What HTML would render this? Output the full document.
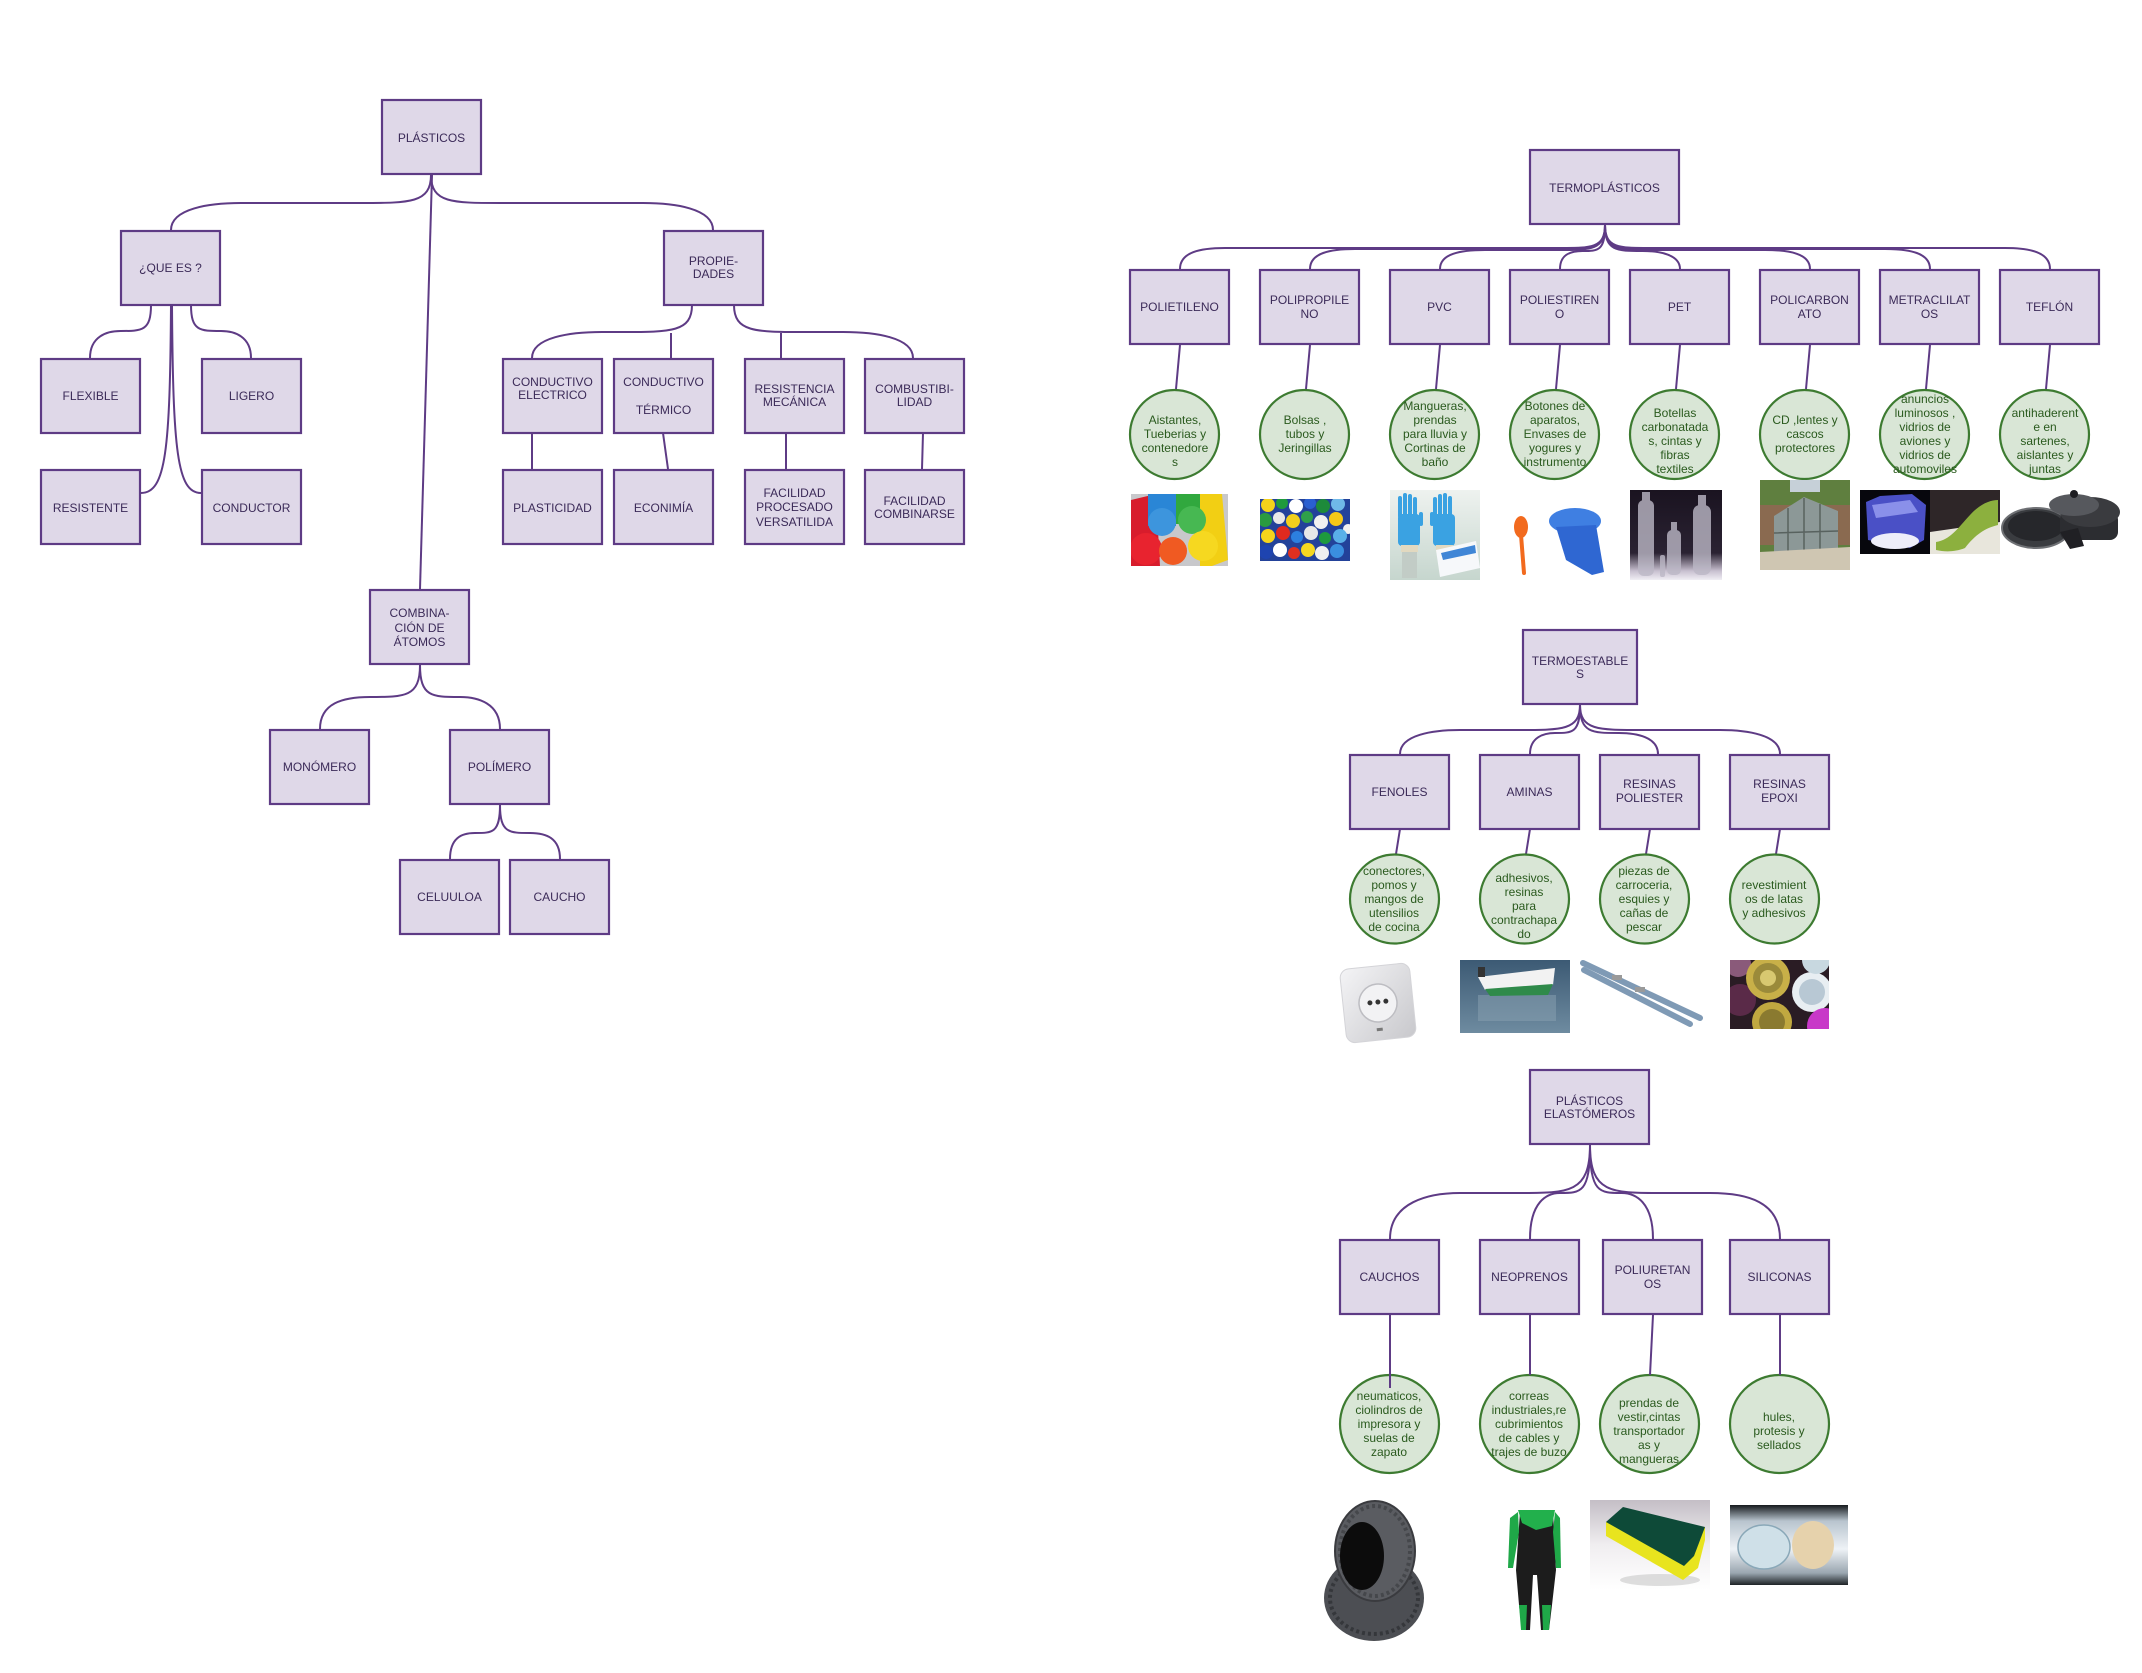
<!DOCTYPE html>
<html><head><meta charset="utf-8">
<style>
html,body{margin:0;padding:0;background:#fff;}
svg{display:block;}
.b{fill:#dfd8e8;stroke:#5e3b85;stroke-width:2.2;}
.e{fill:#d9e6d6;stroke:#3d7b31;stroke-width:2.2;}
.c{fill:none;stroke:#5e3b85;stroke-width:2;}
text{font-family:"Liberation Sans",Arial,sans-serif;font-size:12px;text-anchor:middle;}
.t{fill:#3b2a58;}
.g{fill:#2a5a1e;}
</style></head><body>
<svg width="2142" height="1673" viewBox="0 0 2142 1673" xmlns="http://www.w3.org/2000/svg">
<defs>
<linearGradient id="gPvc" x1="0" y1="0" x2="0" y2="1"><stop offset="0" stop-color="#eef2ef"/><stop offset="1" stop-color="#c6d6ce"/></linearGradient>
<linearGradient id="gPet" x1="0" y1="0" x2="0" y2="1"><stop offset="0" stop-color="#1a1320"/><stop offset="0.7" stop-color="#2a2232"/><stop offset="0.9" stop-color="#c8c0d0"/><stop offset="1" stop-color="#f0eef4"/></linearGradient>
<linearGradient id="gBoat" x1="0" y1="0" x2="0" y2="1"><stop offset="0" stop-color="#3c5a74"/><stop offset="1" stop-color="#6e8ba0"/></linearGradient>
<linearGradient id="gSponge" x1="0" y1="0" x2="0" y2="1"><stop offset="0" stop-color="#c4bec6"/><stop offset="0.5" stop-color="#f0eef0"/><stop offset="1" stop-color="#ffffff"/></linearGradient>
<linearGradient id="gSil" x1="0" y1="0" x2="0" y2="1"><stop offset="0" stop-color="#161a1e"/><stop offset="0.2" stop-color="#b8c4ce"/><stop offset="0.55" stop-color="#eef2f6"/><stop offset="0.85" stop-color="#9aa6b0"/><stop offset="1" stop-color="#1e2226"/></linearGradient>
<linearGradient id="gSock" x1="0" y1="0" x2="1" y2="1"><stop offset="0" stop-color="#f4f4f6"/><stop offset="1" stop-color="#c8c8cc"/></linearGradient>
<clipPath id="cCaps"><rect x="1260" y="499" width="90" height="62"/></clipPath>
<clipPath id="cCans"><rect x="1730" y="960" width="99" height="69"/></clipPath>
<clipPath id="cRolls"><rect x="1131" y="494" width="97" height="72"/></clipPath>
<clipPath id="cGreen"><rect x="1760" y="480" width="90" height="90"/></clipPath>
<clipPath id="cMeta"><rect x="1860" y="490" width="140" height="64"/></clipPath>
</defs>

<!-- ============ LEFT TREE CONNECTORS ============ -->
<path class="c" d="M431 175 C431 203 410 203 361 203 L241 203 C209.5 203 171 208.4 171 230"/>
<path class="c" d="M431 175 C431 203 452 203 501 203 L643 203 C674.5 203 713 208.4 713 230"/>
<path class="c" d="M432 175 L420 589"/>
<path class="c" d="M151 305 C151 331 141.8 331 120.5 331 C106.8 331 90 336.4 90 358"/>
<path class="c" d="M191 305 C191 331 200 331 221 331 C234.5 331 251 336.4 251 358"/>
<path class="c" d="M171 305 C170 450 166 493 141 493"/>
<path class="c" d="M172 305 C173 450 177 493 201 493"/>
<path class="c" d="M692 305 C692 332 671 332 622 332 L602 332 C570.5 332 532 337.2 532 358"/>
<path class="c" d="M734 305 C734 332 755 332 804 332 L843 332 C874.5 332 913 337.2 913 358"/>
<path class="c" d="M671 333 L671 358 M781 333 L781 358"/>
<path class="c" d="M532 433 L532 469 M663 433 L668 469 M786 433 L786 469 M923 433 L922 469"/>
<path class="c" d="M420 665 C420 697 405 697 370 697 C342.5 697 320 703.4 320 729"/>
<path class="c" d="M420 665 C420 697 432 697 460 697 C478 697 500 703.4 500 729"/>
<path class="c" d="M500 805 C500 833 492.5 833 475 833 C461.2 833 450 838.2 450 859"/>
<path class="c" d="M500 805 C500 833 509 833 530 833 C546.5 833 560 838.2 560 859"/>

<!-- ============ LEFT TREE BOXES ============ -->
<rect class="b" x="382" y="100" width="99" height="74"/>
<rect class="b" x="121" y="231" width="99" height="74"/>
<rect class="b" x="664" y="231" width="99" height="74"/>
<rect class="b" x="41" y="359" width="99" height="74"/>
<rect class="b" x="202" y="359" width="99" height="74"/>
<rect class="b" x="41" y="470" width="99" height="74"/>
<rect class="b" x="202" y="470" width="99" height="74"/>
<rect class="b" x="503" y="359" width="99" height="74"/>
<rect class="b" x="614" y="359" width="99" height="74"/>
<rect class="b" x="745" y="359" width="99" height="74"/>
<rect class="b" x="865" y="359" width="99" height="74"/>
<rect class="b" x="503" y="470" width="99" height="74"/>
<rect class="b" x="614" y="470" width="99" height="74"/>
<rect class="b" x="745" y="470" width="99" height="74"/>
<rect class="b" x="865" y="470" width="99" height="74"/>
<rect class="b" x="370" y="590" width="99" height="74"/>
<rect class="b" x="270" y="730" width="99" height="74"/>
<rect class="b" x="450" y="730" width="99" height="74"/>
<rect class="b" x="400" y="860" width="99" height="74"/>
<rect class="b" x="510" y="860" width="99" height="74"/>

<g class="t">
<text class="t" x="431.5" y="142">PLÁSTICOS</text>
<text class="t" x="170.5" y="272">¿QUE ES ?</text>
<text class="t" x="713.5" y="265">PROPIE-</text>
<text class="t" x="713.5" y="278">DADES</text>
<text class="t" x="90.5" y="400">FLEXIBLE</text>
<text class="t" x="251.5" y="400">LIGERO</text>
<text class="t" x="90.5" y="512">RESISTENTE</text>
<text class="t" x="251.5" y="512">CONDUCTOR</text>
<text class="t" x="552.5" y="386">CONDUCTIVO</text>
<text class="t" x="552.5" y="399">ELECTRICO</text>
<text class="t" x="663.5" y="386">CONDUCTIVO</text>
<text class="t" x="663.5" y="414">TÉRMICO</text>
<text class="t" x="794.5" y="393">RESISTENCIA</text>
<text class="t" x="794.5" y="406">MECÁNICA</text>
<text class="t" x="914.5" y="393">COMBUSTIBI-</text>
<text class="t" x="914.5" y="406">LIDAD</text>
<text class="t" x="552.5" y="512">PLASTICIDAD</text>
<text class="t" x="663.5" y="512">ECONIMÍA</text>
<text class="t" x="794.5" y="497">FACILIDAD</text>
<text class="t" x="794.5" y="511">PROCESADO</text>
<text class="t" x="794.5" y="526">VERSATILIDA</text>
<text class="t" x="914.5" y="505">FACILIDAD</text>
<text class="t" x="914.5" y="518">COMBINARSE</text>
<text class="t" x="419.5" y="617">COMBINA-</text>
<text class="t" x="419.5" y="632">CIÓN DE</text>
<text class="t" x="419.5" y="646">ÁTOMOS</text>
<text class="t" x="319.5" y="771">MONÓMERO</text>
<text class="t" x="499.5" y="771">POLÍMERO</text>
<text class="t" x="449.5" y="901">CELUULOA</text>
<text class="t" x="559.5" y="901">CAUCHO</text>
</g>

<!-- ============ TERMOPLASTICOS ============ -->
<path class="c" d="M1605 225 C1605 248 1591.5 248 1560 248 L1225 248 C1200.2 248 1180 252.2 1180 269"/>
<path class="c" d="M1605 225 C1605 249 1591.5 249 1560 249 L1355 249 C1330.2 249 1310 253 1310 269"/>
<path class="c" d="M1605 225 C1605 250 1591.5 250 1560 250 L1485 250 C1460.2 250 1440 253.8 1440 269"/>
<path class="c" d="M1605 225 C1605 251 1598.2 251 1582.5 251 C1570.4 251 1560 254.6 1560 269"/>
<path class="c" d="M1605 225 C1605 251 1616.2 251 1642.5 251 C1659.4 251 1680 254.6 1680 269"/>
<path class="c" d="M1605 225 C1605 250 1618.5 250 1650 250 L1765 250 C1789.8 250 1810 253.8 1810 269"/>
<path class="c" d="M1605 225 C1605 249 1618.5 249 1650 249 L1885 249 C1909.8 249 1930 253 1930 269"/>
<path class="c" d="M1605 225 C1605 248 1618.5 248 1650 248 L2005 248 C2029.8 248 2050 252.2 2050 269"/>
<path class="c" d="M1180 345 L1176 389 M1310 345 L1306 389 M1440 345 L1436 389 M1560 345 L1556 389 M1680 345 L1676 389 M1810 345 L1806 389 M1930 345 L1926 389 M2050 345 L2046 389"/>

<rect class="b" x="1530" y="150" width="149" height="74"/>
<rect class="b" x="1130" y="270" width="99" height="74"/>
<rect class="b" x="1260" y="270" width="99" height="74"/>
<rect class="b" x="1390" y="270" width="99" height="74"/>
<rect class="b" x="1510" y="270" width="99" height="74"/>
<rect class="b" x="1630" y="270" width="99" height="74"/>
<rect class="b" x="1760" y="270" width="99" height="74"/>
<rect class="b" x="1880" y="270" width="99" height="74"/>
<rect class="b" x="2000" y="270" width="99" height="74"/>

<circle class="e" cx="1174.5" cy="434.5" r="44.5"/>
<circle class="e" cx="1304.5" cy="434.5" r="44.5"/>
<circle class="e" cx="1434.5" cy="434.5" r="44.5"/>
<circle class="e" cx="1554.5" cy="434.5" r="44.5"/>
<circle class="e" cx="1674.5" cy="434.5" r="44.5"/>
<circle class="e" cx="1804.5" cy="434.5" r="44.5"/>
<circle class="e" cx="1924.5" cy="434.5" r="44.5"/>
<circle class="e" cx="2044.5" cy="434.5" r="44.5"/>

<text class="t" x="1604.5" y="192">TERMOPLÁSTICOS</text>
<text class="t" x="1179.5" y="311">POLIETILENO</text>
<text class="t" x="1309.5" y="304">POLIPROPILE</text>
<text class="t" x="1309.5" y="318">NO</text>
<text class="t" x="1439.5" y="311">PVC</text>
<text class="t" x="1559.5" y="304">POLIESTIREN</text>
<text class="t" x="1559.5" y="318">O</text>
<text class="t" x="1679.5" y="311">PET</text>
<text class="t" x="1809.5" y="304">POLICARBON</text>
<text class="t" x="1809.5" y="318">ATO</text>
<text class="t" x="1929.5" y="304">METRACLILAT</text>
<text class="t" x="1929.5" y="318">OS</text>
<text class="t" x="2049.5" y="311">TEFLÓN</text>

<text class="g" x="1175" y="424">Aistantes,</text>
<text class="g" x="1175" y="438">Tueberias y</text>
<text class="g" x="1175" y="452">contenedore</text>
<text class="g" x="1175" y="466">s</text>
<text class="g" x="1305" y="424">Bolsas ,</text>
<text class="g" x="1305" y="438">tubos y</text>
<text class="g" x="1305" y="452">Jeringillas</text>
<text class="g" x="1435" y="410">Mangueras,</text>
<text class="g" x="1435" y="424">prendas</text>
<text class="g" x="1435" y="438">para lluvia y</text>
<text class="g" x="1435" y="452">Cortinas de</text>
<text class="g" x="1435" y="466">baño</text>
<text class="g" x="1555" y="410">Botones de</text>
<text class="g" x="1555" y="424">aparatos,</text>
<text class="g" x="1555" y="438">Envases de</text>
<text class="g" x="1555" y="452">yogures y</text>
<text class="g" x="1555" y="466">instrumento</text>
<text class="g" x="1675" y="417">Botellas</text>
<text class="g" x="1675" y="431">carbonatada</text>
<text class="g" x="1675" y="445">s, cintas y</text>
<text class="g" x="1675" y="459">fibras</text>
<text class="g" x="1675" y="473">textiles</text>
<text class="g" x="1805" y="424">CD ,lentes y</text>
<text class="g" x="1805" y="438">cascos</text>
<text class="g" x="1805" y="452">protectores</text>
<text class="g" x="1925" y="403">anuncios</text>
<text class="g" x="1925" y="417">luminosos ,</text>
<text class="g" x="1925" y="431">vidrios de</text>
<text class="g" x="1925" y="445">aviones y</text>
<text class="g" x="1925" y="459">vidrios de</text>
<text class="g" x="1925" y="473">automoviles</text>
<text class="g" x="2045" y="417">antihaderent</text>
<text class="g" x="2045" y="431">e en</text>
<text class="g" x="2045" y="445">sartenes,</text>
<text class="g" x="2045" y="459">aislantes  y</text>
<text class="g" x="2045" y="473">juntas</text>

<!-- images row termoplasticos -->
<!-- rolls -->
<g clip-path="url(#cRolls)">
<rect x="1131" y="494" width="97" height="72" fill="#c8c8cb"/>
<polygon points="1131,500 1156,494 1160,566 1131,566" fill="#d81c2c"/>
<rect x="1148" y="494" width="28" height="32" fill="#2a86d6"/>
<rect x="1176" y="494" width="28" height="30" fill="#31a83e"/>
<polygon points="1200,494 1222,494 1228,560 1212,566 1200,566" fill="#f2cf14"/>
<circle cx="1162" cy="522" r="14" fill="#3d95dd"/>
<circle cx="1192" cy="520" r="14" fill="#47b852"/>
<circle cx="1146" cy="549" r="16" fill="#e8232f"/>
<circle cx="1173" cy="551" r="14" fill="#f05a22"/>
<circle cx="1203" cy="546" r="15" fill="#f6d820"/>
</g>
<!-- caps -->
<g clip-path="url(#cCaps)">
<rect x="1260" y="499" width="90" height="62" fill="#23429a"/>
<circle cx="1268" cy="505" r="7" fill="#f4d21a"/><circle cx="1282" cy="503" r="6" fill="#1f9a3c"/><circle cx="1296" cy="506" r="7" fill="#ffffff"/><circle cx="1310" cy="503" r="6" fill="#2a5fd0"/><circle cx="1323" cy="506" r="7" fill="#1d8a3a"/><circle cx="1338" cy="504" r="7" fill="#6fb8e8"/>
<circle cx="1265" cy="520" r="7" fill="#2a9a40"/><circle cx="1279" cy="518" r="6" fill="#e8e8e8"/><circle cx="1293" cy="521" r="7" fill="#f2d01c"/><circle cx="1307" cy="517" r="6" fill="#2fa04a"/><circle cx="1321" cy="522" r="7" fill="#f0f0f0"/><circle cx="1336" cy="519" r="7" fill="#f4c818"/><circle cx="1348" cy="529" r="5" fill="#f0f0f0"/>
<circle cx="1268" cy="536" r="7" fill="#f6d41c"/><circle cx="1283" cy="533" r="7" fill="#e02a1e"/><circle cx="1297" cy="537" r="6" fill="#2c7fe0"/><circle cx="1311" cy="533" r="7" fill="#e8e8e8"/><circle cx="1325" cy="538" r="6" fill="#1e9a3e"/><circle cx="1340" cy="536" r="7" fill="#5ab0e8"/>
<circle cx="1266" cy="552" r="7" fill="#1e44b0"/><circle cx="1280" cy="550" r="7" fill="#ffffff"/><circle cx="1294" cy="553" r="6" fill="#e03020"/><circle cx="1308" cy="550" r="7" fill="#f5d820"/><circle cx="1322" cy="553" r="7" fill="#f0f0f0"/><circle cx="1337" cy="551" r="7" fill="#3a8fe0"/>
</g>
<!-- gloves -->
<rect x="1390" y="490" width="90" height="90" fill="url(#gPvc)"/>
<g fill="#3aa2e2">
<rect x="1398" y="514" width="22" height="32" rx="4"/>
<rect x="1398" y="496" width="4" height="22" rx="2"/><rect x="1403" y="493" width="4" height="24" rx="2"/><rect x="1408" y="494" width="4" height="24" rx="2"/><rect x="1413" y="497" width="4" height="22" rx="2"/>
<rect x="1419" y="512" width="4" height="14" rx="2"/>
<rect x="1433" y="514" width="22" height="32" rx="4"/>
<rect x="1433" y="497" width="4" height="22" rx="2"/><rect x="1438" y="494" width="4" height="24" rx="2"/><rect x="1443" y="493" width="4" height="24" rx="2"/><rect x="1448" y="496" width="4" height="22" rx="2"/>
<rect x="1430" y="512" width="4" height="14" rx="2"/>
</g>
<rect x="1401" y="545" width="17" height="7" fill="#e2d9c0"/>
<rect x="1402" y="552" width="15" height="26" fill="#c2ccc6"/>
<rect x="1436" y="545" width="17" height="7" fill="#e2d9c0"/>
<polygon points="1436,550 1476,541 1480,568 1440,577" fill="#f6f8fa"/>
<polygon points="1441,553 1475,545 1476,553 1443,560" fill="#3f86d6"/>
<!-- spoons -->
<ellipse cx="1521" cy="527" rx="7" ry="11" fill="#f26a1e"/>
<path d="M1521 535 L1524 573" stroke="#f26a1e" stroke-width="4" stroke-linecap="round"/>
<ellipse cx="1575" cy="521" rx="26" ry="13" fill="#3f7fe2"/>
<polygon points="1556,527 1596,525 1604,572 1592,575 1566,560" fill="#2f67d2"/>
<!-- PET -->
<rect x="1630" y="490" width="92" height="90" fill="url(#gPet)"/>
<g fill="#bcb8c6" opacity="0.8">
<rect x="1638" y="500" width="16" height="76" rx="6"/><rect x="1642" y="492" width="8" height="10"/>
<rect x="1667" y="530" width="14" height="45" rx="5"/><rect x="1671" y="522" width="6" height="10"/>
<rect x="1693" y="505" width="18" height="70" rx="7"/><rect x="1698" y="495" width="8" height="12"/>
<rect x="1660" y="555" width="5" height="22" rx="2"/>
</g>
<!-- greenhouse -->
<g clip-path="url(#cGreen)">
<rect x="1760" y="480" width="90" height="90" fill="#5f7f3f"/>
<rect x="1790" y="480" width="30" height="12" fill="#c6d0d8"/>
<rect x="1760" y="505" width="90" height="40" fill="#8a6a50"/>
<polygon points="1774,516 1804,497 1838,511 1838,556 1774,559" fill="#8c9897"/>
<g stroke="#58625f" stroke-width="1.5"><path d="M1788 508 L1788 558 M1804 498 L1804 557 M1820 504 L1820 556 M1774 533 L1838 531"/></g>
<polygon points="1760,552 1850,547 1850,570 1760,570" fill="#cfc6b2"/>
</g>
<!-- metacrilato -->
<g clip-path="url(#cMeta)">
<rect x="1860" y="490" width="70" height="64" fill="#07070d"/>
<polygon points="1866,502 1880,496 1912,494 1926,505 1924,540 1910,548 1868,540" fill="#4a50c6"/>
<polygon points="1872,505 1910,500 1918,512 1876,518" fill="#8a90ea"/>
<ellipse cx="1895" cy="541" rx="24" ry="8" fill="#eeeefa"/>
<rect x="1930" y="490" width="70" height="64" fill="#2e2628"/>
<polygon points="1930,532 2000,522 2000,554 1930,554" fill="#e8e6dc"/>
<path d="M1936 542 C1950 540 1958 528 1970 515 C1980 504 1990 500 1998 500 L1998 525 C1985 528 1975 535 1965 548 C1955 552 1945 552 1936 550 Z" fill="#8cb03e"/>
</g>
<!-- teflon -->
<ellipse cx="2036" cy="528" rx="34" ry="20" fill="#3a3c40" stroke="#6e7074" stroke-width="2"/>
<ellipse cx="2036" cy="526" rx="28" ry="15" fill="#26272b"/>
<rect x="2060" y="512" width="58" height="28" rx="8" fill="#2c2d31"/>
<ellipse cx="2090" cy="512" rx="30" ry="15" fill="#3a3b3f"/>
<ellipse cx="2074" cy="505" rx="25" ry="11" fill="#56585d"/>
<circle cx="2074" cy="494" r="4" fill="#1e1e22"/>
<polygon points="2060,532 2078,528 2084,546 2070,549" fill="#202024"/>

<!-- ============ TERMOESTABLES ============ -->
<path class="c" d="M1580 705 C1580 730 1562 730 1520 730 L1460 730 C1433 730 1400 734.8 1400 754"/>
<path class="c" d="M1580 705 C1580 733 1572.5 733 1555 733 C1543.8 733 1530 737.2 1530 754"/>
<path class="c" d="M1580 705 C1580 733 1591.7 733 1619 733 C1636.6 733 1658 737.2 1658 754"/>
<path class="c" d="M1580 705 C1580 730 1598 730 1640 730 L1720 730 C1747 730 1780 734.8 1780 754"/>
<path class="c" d="M1400 829 L1396 854 M1530 829 L1526 854 M1650 829 L1646 854 M1780 829 L1776 854"/>

<rect class="b" x="1523" y="630" width="114" height="74"/>
<rect class="b" x="1350" y="755" width="99" height="74"/>
<rect class="b" x="1480" y="755" width="99" height="74"/>
<rect class="b" x="1600" y="755" width="99" height="74"/>
<rect class="b" x="1730" y="755" width="99" height="74"/>
<circle class="e" cx="1394.5" cy="899" r="44.5"/>
<circle class="e" cx="1524.5" cy="899" r="44.5"/>
<circle class="e" cx="1644.5" cy="899" r="44.5"/>
<circle class="e" cx="1774.5" cy="899" r="44.5"/>

<text class="t" x="1580" y="665">TERMOESTABLE</text>
<text class="t" x="1580" y="678">S</text>
<text class="t" x="1399.5" y="796">FENOLES</text>
<text class="t" x="1529.5" y="796">AMINAS</text>
<text class="t" x="1649.5" y="788">RESINAS</text>
<text class="t" x="1649.5" y="802">POLIESTER</text>
<text class="t" x="1779.5" y="788">RESINAS</text>
<text class="t" x="1779.5" y="802">EPOXI</text>

<text class="g" x="1394" y="875">conectores,</text>
<text class="g" x="1394" y="889">pomos y</text>
<text class="g" x="1394" y="903">mangos de</text>
<text class="g" x="1394" y="917">utensilios</text>
<text class="g" x="1394" y="931">de cocina</text>
<text class="g" x="1524" y="882">adhesivos,</text>
<text class="g" x="1524" y="896">resinas</text>
<text class="g" x="1524" y="910">para</text>
<text class="g" x="1524" y="924">contrachapa</text>
<text class="g" x="1524" y="938">do</text>
<text class="g" x="1644" y="875">piezas de</text>
<text class="g" x="1644" y="889">carroceria,</text>
<text class="g" x="1644" y="903">esquies y</text>
<text class="g" x="1644" y="917">cañas de</text>
<text class="g" x="1644" y="931">pescar</text>
<text class="g" x="1774" y="889">revestimient</text>
<text class="g" x="1774" y="903">os de latas</text>
<text class="g" x="1774" y="917">y adhesivos</text>

<!-- socket -->
<g transform="rotate(-6 1378 1003)">
<rect x="1343" y="966" width="70" height="74" rx="9" fill="url(#gSock)" stroke="#d4d4d8" stroke-width="1"/>
<circle cx="1378" cy="1003" r="19" fill="#f2f2f4" stroke="#bdbdc2" stroke-width="1.5"/>
<circle cx="1370" cy="1002" r="2.5" fill="#333"/><circle cx="1378" cy="1002" r="2.5" fill="#333"/><circle cx="1386" cy="1002" r="2.5" fill="#333"/>
<rect x="1374" y="1028" width="6" height="3" fill="#777"/>
</g>
<!-- boat -->
<rect x="1460" y="960" width="110" height="73" fill="url(#gBoat)"/>
<rect x="1478" y="995" width="78" height="26" fill="#8aa2b2" opacity="0.5"/>
<polygon points="1478,977 1555,968 1553,985 1485,990" fill="#f2f2f2"/>
<polygon points="1485,989 1553,984 1548,995 1490,996" fill="#2f8a4a"/>
<rect x="1478" y="967" width="7" height="10" fill="#333"/>
<!-- skis -->
<path d="M1583 963 L1700 1018" stroke="#7f9ab5" stroke-width="6" stroke-linecap="round"/>
<path d="M1584 970 L1690 1024" stroke="#7f9ab5" stroke-width="6" stroke-linecap="round"/>
<rect x="1612" y="975" width="10" height="5" fill="#9a9a9a"/><rect x="1635" y="987" width="10" height="5" fill="#9a9a9a"/>
<!-- cans -->
<g clip-path="url(#cCans)">
<rect x="1730" y="960" width="99" height="69" fill="#2a1c24"/>
<circle cx="1738" cy="964" r="13" fill="#8a5a7a"/>
<circle cx="1740" cy="1000" r="16" fill="#5a2a48"/>
<circle cx="1768" cy="978" r="22" fill="#c8b048"/><circle cx="1768" cy="978" r="15" fill="#9a8a3a"/><circle cx="1768" cy="978" r="8" fill="#d8c870"/>
<circle cx="1812" cy="992" r="20" fill="#e8eef2"/><circle cx="1812" cy="992" r="13" fill="#b8c8d4"/>
<circle cx="1816" cy="960" r="14" fill="#c8d8e0"/>
<circle cx="1772" cy="1022" r="20" fill="#c0a840"/><circle cx="1772" cy="1022" r="13" fill="#8a7a30"/>
<circle cx="1825" cy="1026" r="18" fill="#c838c8"/>
</g>

<!-- ============ ELASTOMEROS ============ -->
<path class="c" d="M1590 1145 C1590 1193 1569 1193 1520 1193 L1460 1193 C1428.5 1193 1390 1202.2 1390 1239"/>
<path class="c" d="M1590 1145 C1590 1193 1581 1193 1560 1193 C1546.5 1193 1530 1202.2 1530 1239"/>
<path class="c" d="M1590 1145 C1590 1193 1599.5 1193 1621.5 1193 C1635.7 1193 1653 1202.2 1653 1239"/>
<path class="c" d="M1590 1145 C1590 1193 1611 1193 1660 1193 L1710 1193 C1748.5 1193 1780 1202.2 1780 1239"/>

<rect class="b" x="1530" y="1070" width="119" height="74"/>
<rect class="b" x="1340" y="1240" width="99" height="74"/>
<rect class="b" x="1480" y="1240" width="99" height="74"/>
<rect class="b" x="1603" y="1240" width="99" height="74"/>
<rect class="b" x="1730" y="1240" width="99" height="74"/>
<ellipse class="e" cx="1389.5" cy="1424" rx="49.5" ry="49"/>
<ellipse class="e" cx="1529.5" cy="1424" rx="49.5" ry="49"/>
<ellipse class="e" cx="1649.5" cy="1424" rx="49.5" ry="49"/>
<ellipse class="e" cx="1779.5" cy="1424" rx="49.5" ry="49"/>
<path class="c" d="M1390 1315 L1390 1388 M1530 1315 L1530 1375 M1653 1315 L1650 1375 M1780 1315 L1780 1375"/>

<text class="t" x="1589.5" y="1105">PLÁSTICOS</text>
<text class="t" x="1589.5" y="1118">ELASTÓMEROS</text>
<text class="t" x="1389.5" y="1281">CAUCHOS</text>
<text class="t" x="1529.5" y="1281">NEOPRENOS</text>
<text class="t" x="1652.5" y="1274">POLIURETAN</text>
<text class="t" x="1652.5" y="1288">OS</text>
<text class="t" x="1779.5" y="1281">SILICONAS</text>

<text class="g" x="1389" y="1400">neumaticos,</text>
<text class="g" x="1389" y="1414">ciolindros de</text>
<text class="g" x="1389" y="1428">impresora y</text>
<text class="g" x="1389" y="1442">suelas de</text>
<text class="g" x="1389" y="1456">zapato</text>
<text class="g" x="1529" y="1400">correas</text>
<text class="g" x="1529" y="1414">industriales,re</text>
<text class="g" x="1529" y="1428">cubrimientos</text>
<text class="g" x="1529" y="1442">de cables y</text>
<text class="g" x="1529" y="1456">trajes de buzo</text>
<text class="g" x="1649" y="1407">prendas de</text>
<text class="g" x="1649" y="1421">vestir,cintas</text>
<text class="g" x="1649" y="1435">transportador</text>
<text class="g" x="1649" y="1449">as y</text>
<text class="g" x="1649" y="1463">mangueras</text>
<text class="g" x="1779" y="1421">hules,</text>
<text class="g" x="1779" y="1435">protesis y</text>
<text class="g" x="1779" y="1449">sellados</text>

<!-- tires -->
<ellipse cx="1374" cy="1598" rx="50" ry="43" fill="#4c4e53"/>
<ellipse cx="1374" cy="1598" rx="44" ry="36" fill="none" stroke="#35373b" stroke-width="4" stroke-dasharray="3 3"/>
<ellipse cx="1375" cy="1551" rx="40" ry="50" fill="#5a5c61" stroke="#3a3b3f" stroke-width="2"/>
<ellipse cx="1375" cy="1551" rx="35" ry="45" fill="none" stroke="#45474b" stroke-width="4" stroke-dasharray="3 3"/>
<ellipse cx="1362" cy="1556" rx="22" ry="34" fill="#0c0c0c"/>
<!-- wetsuit -->
<path d="M1520 1512 L1553 1512 L1556 1570 L1552 1605 L1549 1630 L1541 1630 L1537 1575 L1533 1575 L1530 1630 L1522 1630 L1519 1605 L1516 1570 Z" fill="#1c1c1c"/>
<polygon points="1518,1510 1555,1510 1552,1526 1536,1530 1522,1523" fill="#22b04c"/>
<polygon points="1518,1512 1510,1518 1508,1568 1513,1568 1519,1532" fill="#1fa848"/>
<polygon points="1555,1512 1560,1518 1561,1568 1556,1568 1553,1532" fill="#1fa848"/>
<polygon points="1519,1605 1527,1605 1526,1630 1521,1630" fill="#1fa848"/>
<polygon points="1542,1605 1551,1605 1549,1630 1543,1630" fill="#1fa848"/>
<!-- sponge -->
<rect x="1590" y="1500" width="120" height="90" fill="url(#gSponge)"/>
<ellipse cx="1660" cy="1580" rx="40" ry="6" fill="#c8c8c8" opacity="0.6"/>
<polygon points="1606,1522 1606,1536 1683,1580 1698,1568 1705,1540 1705,1527" fill="#e8e41e"/>
<polygon points="1606,1522 1623,1507 1705,1527 1694,1556 1684,1566" fill="#0e4a38"/>
<!-- silicone -->
<rect x="1730" y="1505" width="118" height="80" fill="url(#gSil)"/>
<ellipse cx="1764" cy="1547" rx="26" ry="22" fill="#cfe0e8" stroke="#8aa8b8" stroke-width="1.5"/>
<ellipse cx="1813" cy="1545" rx="21" ry="24" fill="#e6d2ac"/>
</svg>
</body></html>
